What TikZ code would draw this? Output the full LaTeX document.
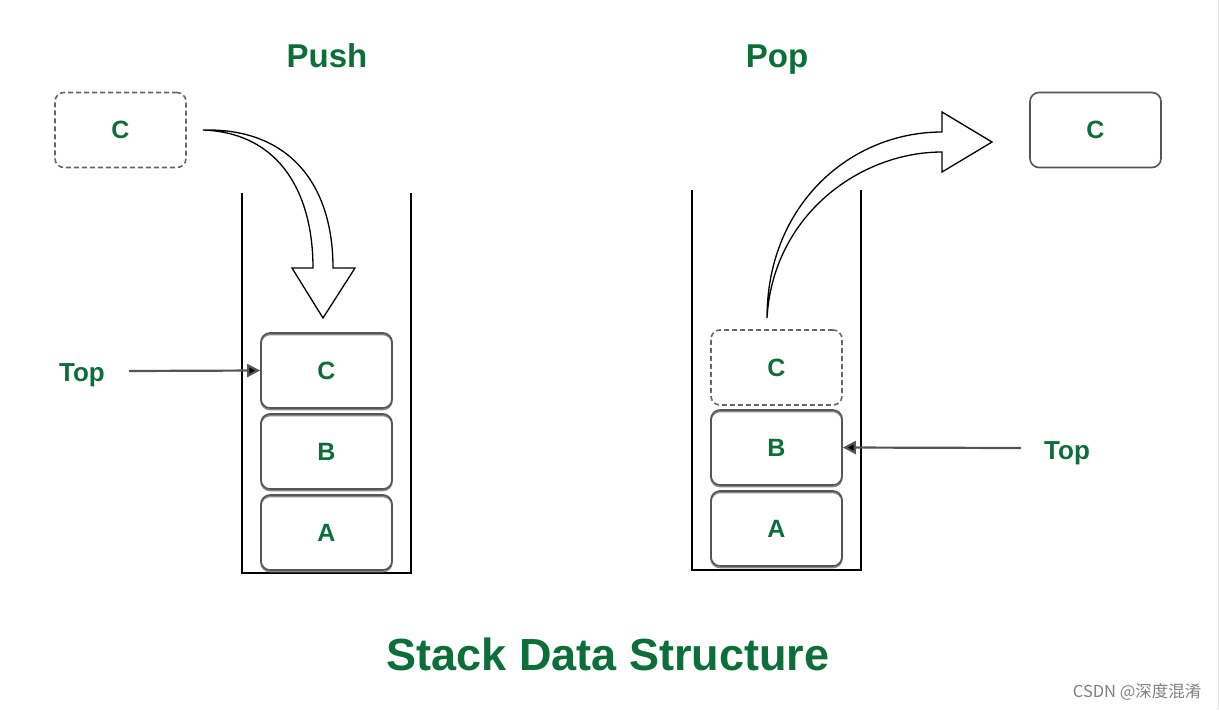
\documentclass[tikz,border=0pt]{standalone}
\usepackage{fontspec}
\setmainfont{Liberation Sans}
\newfontfamily\cjkfont{Noto Sans CJK SC}
\usetikzlibrary{arrows.meta}
\definecolor{gfg}{RGB}{12,110,56}
\definecolor{boxedge}{RGB}{85,85,85}
\tikzset{
  plaincell/.style={draw=boxedge, line width=1.6pt, rounded corners=9pt, minimum width=131pt, minimum height=75pt, inner sep=0pt, text=gfg, font=\bfseries\fontsize{25}{30}\selectfont},
  cell/.style={plaincell, preaction={draw=boxedge!70, line width=1.6pt, transform canvas={yshift=-1.5pt}}},
  dcell/.style={plaincell, draw=boxedge!90, dashed, dash pattern=on 5pt off 3pt},
  title/.style={text=gfg, font=\bfseries\fontsize{33}{40}\selectfont, anchor=base},
  toplabel/.style={text=gfg, font=\bfseries\fontsize{26}{30}\selectfont},
  wall/.style={line width=1.5pt, black},
  ptr/.style={draw=boxedge, line width=2.2pt, -{Triangle[length=13pt,width=13pt,fill=black]}},
  blockarrow/.style={draw=black, fill=white, line width=1.3pt, line join=miter},
}
\begin{document}
\begin{tikzpicture}[x=1pt,y=-1pt]
\useasboundingbox (0,0) rectangle (1219,710);
\fill[white] (0,0) rectangle (1219,710);
\draw[black!12, line width=1pt] (1218,0) -- (1218,710);

% titles
\node[title] (push) at (327,67) {Push};
\node[title] (pop) at (777,67) {Pop};
\node[text=gfg, font=\bfseries\fontsize{45}{54}\selectfont] (main) at (608,654) {Stack Data Structure};
\node[text=black!50, font=\cjkfont\fontsize{16.5}{20}\selectfont, anchor=east] (wm) at (1205,692) {CSDN @深度混淆};

% ---- Push side ----
\node[dcell] (newC) at (120.5,130) {C};
\draw[wall] (242,193) -- (242,573) -- (411,573) -- (411,193);
\node[cell] (pA) at (326.5,532.5) {A};
\node[cell] (pB) at (326.5,451.5) {B};
\node[cell] (pC) at (326.5,370.5) {C};
\node[toplabel] (ptop) at (82,375) {Top};
\coordinate (ptopstart) at (129,371);
\draw[ptr] (ptopstart) -- (pC.west);
\draw[blockarrow] (203,130) .. controls (290,128) and (333,185) .. (333,268) -- (355,268) -- (323,318) -- (292,268) -- (313,268) .. controls (313,196) and (282,133) .. (203,130) -- cycle;

% ---- Pop side ----
\draw[wall] (692,190) -- (692,570) -- (861,570) -- (861,190);
\node[cell] (qA) at (776.5,528.5) {A};
\node[cell] (qB) at (776.5,447.5) {B};
\node[dcell] (qC) at (776.5,367.5) {C};
\node[plaincell] (outC) at (1095.5,130) {C};
\node[toplabel] (qtop) at (1067,453) {Top};
\coordinate (qtopstart) at (1021,448);
\draw[ptr] (qtopstart) -- (qB.east);
\draw[blockarrow] (767,318) .. controls (767,205) and (850,132) .. (942,132) -- (942,112) -- (992,142) -- (942,172) -- (942,152) .. controls (860,152) and (773,215) .. (767,318) -- cycle;
\end{tikzpicture}
\end{document}
